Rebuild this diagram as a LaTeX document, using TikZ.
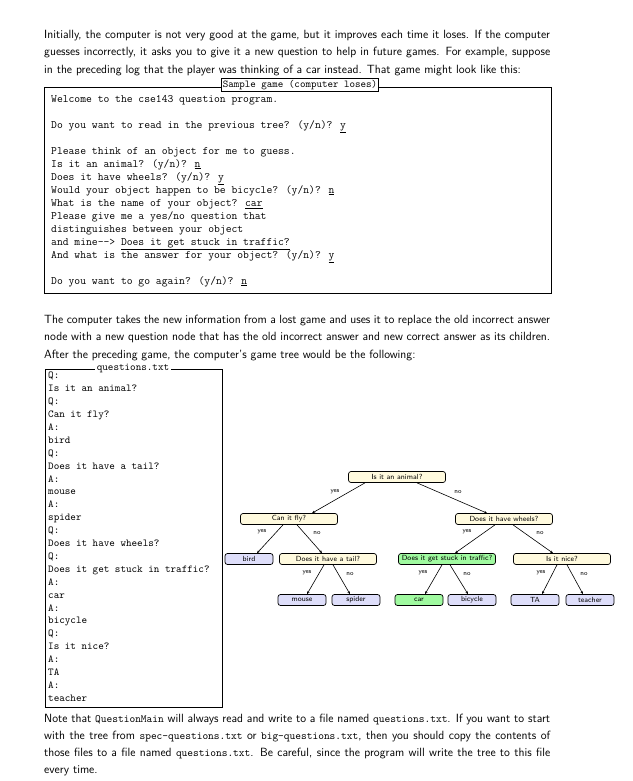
\documentclass[tikz,border=0pt]{standalone}
\usepackage{fontspec}
\usetikzlibrary{arrows.meta}
\definecolor{qy}{RGB}{255,250,222}
\definecolor{ab}{RGB}{222,222,250}
\definecolor{gr}{RGB}{160,250,160}
\newcommand{\mytt}[1]{{\fontsize{10.9}{17}\ttfamily #1}}
\begin{document}
\begin{tikzpicture}[x=1pt,y=-1pt,
 para/.style={anchor=north west,inner sep=0,text width=506pt,align=justify,font=\sffamily\fontsize{11.9}{17.3}\selectfont},
 mono/.style={anchor=north west,inner sep=0,align=left},
 frame/.style={draw,line width=0.8pt},
 tn/.style={draw,line width=0.7pt,rounded corners=2.5pt,minimum height=11pt,inner sep=1pt,font=\sffamily\fontsize{7.4}{8}\selectfont},
 q/.style={tn,fill=qy,minimum width=97pt},
 a/.style={tn,fill=ab,minimum width=48pt},
 el/.style={font=\sffamily\fontsize{6.6}{7}\selectfont,inner sep=0},
 ed/.style={-{Stealth[length=3pt,width=2.5pt]},line width=0.6pt}]
\useasboundingbox (0,0) rectangle (632,781);
\node[para] (p1) at (44,30) {Initially, the computer is not very good at the game, but it improves each time it loses. If the computer guesses incorrectly, it asks you to give it a new question to help in future games. For example, suppose in the preceding log that the player was thinking of a car instead. That game might look like this:};
% frame 1
\draw[frame] (44,87) rectangle (551,293);
\node[draw,fill=white,line width=0.6pt,inner sep=1.5pt,font=\ttfamily\fontsize{10.5}{11}\selectfont] (t1) at (300,85) {Sample game (computer loses)};
\node[mono,font=\ttfamily\fontsize{11.3}{13}\selectfont] (g) at (51,95) {Welcome to the cse143 question program.\\ ~\\
Do you want to read in the previous tree? (y/n)? \underline{y}\\ ~\\
Please think of an object for me to guess.\\
Is it an animal? (y/n)? \underline{n}\\
Does it have wheels? (y/n)? \underline{y}\\
Would your object happen to be bicycle? (y/n)? \underline{n}\\
What is the name of your object? \underline{car}\\
Please give me a yes/no question that\\
distinguishes between your object\\
and mine--> \underline{Does it get stuck in traffic?}\\
And what is the answer for your object? (y/n)? \underline{y}\\ ~\\
Do you want to go again? (y/n)? \underline{n}};
\node[para] (p2) at (44,315) {The computer takes the new information from a lost game and uses it to replace the old incorrect answer node with a new question node that has the old incorrect answer and new correct answer as its children. After the preceding game, the computer's game tree would be the following:};
% frame 2
\draw[frame] (45,369) rectangle (222,707);
\node[fill=white,inner sep=2pt,font=\ttfamily\fontsize{10.6}{11}\selectfont] (t2) at (133,368) {questions.txt};
\node[mono,font=\ttfamily\fontsize{10.6}{12.9}\selectfont] (f) at (48,372) {Q:\\Is it an animal?\\Q:\\Can it fly?\\A:\\bird\\Q:\\Does it have a tail?\\A:\\mouse\\A:\\spider\\Q:\\Does it have wheels?\\Q:\\Does it get stuck in traffic?\\A:\\car\\A:\\bicycle\\Q:\\Is it nice?\\A:\\TA\\A:\\teacher};
% tree
\node[q] (an) at (397,477) {Is it an animal?};
\node[q] (fl) at (289,519) {Can it fly?};
\node[q] (wh) at (504,519) {Does it have wheels?};
\node[a] (bi) at (249,559) {bird};
\node[q] (ta) at (328,559) {Does it have a tail?};
\node[q,fill=gr] (st) at (447,559) {Does it get stuck in traffic?};
\node[q] (ni) at (562,559) {Is it nice?};
\node[a] (mo) at (302,600) {mouse};
\node[a] (sp) at (356,600) {spider};
\node[a,fill=gr] (ca) at (419,600) {car};
\node[a] (by) at (472,600) {bicycle};
\node[a] (TA) at (535,600) {TA};
\node[a] (te) at (590,600) {teacher};
\draw[ed] ([xshift=-32pt]an.south) -- ([xshift=23pt]fl.north);
\draw[ed] ([xshift=20pt]an.south) -- ([xshift=-17pt]wh.north);
\draw[ed] ([xshift=-6pt]fl.south) -- ([xshift=8pt]bi.north);
\draw[ed] ([xshift=8pt]fl.south) -- ([xshift=-6pt]ta.north);
\draw[ed] ([xshift=-9pt]wh.south) -- ([xshift=8pt]st.north);
\draw[ed] ([xshift=9pt]wh.south) -- ([xshift=-9pt]ni.north);
\draw[ed] ([xshift=-4pt]ta.south) -- ([xshift=5pt]mo.north);
\draw[ed] ([xshift=5pt]ta.south) -- ([xshift=-6pt]sp.north);
\draw[ed] ([xshift=-5pt]st.south) -- ([xshift=6pt]ca.north);
\draw[ed] ([xshift=3pt]st.south) -- ([xshift=-4pt]by.north);
\draw[ed] ([xshift=-5pt]ni.south) -- ([xshift=7pt]TA.north);
\draw[ed] ([xshift=5pt]ni.south) -- ([xshift=-7pt]te.north);
\node[el] (l1) at (335,492) {yes};
\node[el] (l2) at (458,492) {no};
\node[el] (l3) at (262,532) {yes};
\node[el] (l4) at (317,533) {no};
\node[el] (l5) at (467,532) {yes};
\node[el] (l6) at (540,533) {no};
\node[el] (l7) at (307,573) {yes};
\node[el] (l8) at (350,574) {no};
\node[el] (l9) at (423,573) {yes};
\node[el] (l10) at (467,574) {no};
\node[el] (l11) at (541,573) {yes};
\node[el] (l12) at (584,574) {no};
\node[para,font=\sffamily\fontsize{11.9}{17}\selectfont] (p3) at (44,714) {Note that \mytt{QuestionMain} will always read and write to a file named \mytt{questions.txt}. If you want to start with the tree from \mytt{spec-questions.txt} or \mytt{big-questions.txt}, then you should copy the contents of those files to a file named \mytt{questions.txt}. Be careful, since the program will write the tree to this file every time.};
\end{tikzpicture}
\end{document}
